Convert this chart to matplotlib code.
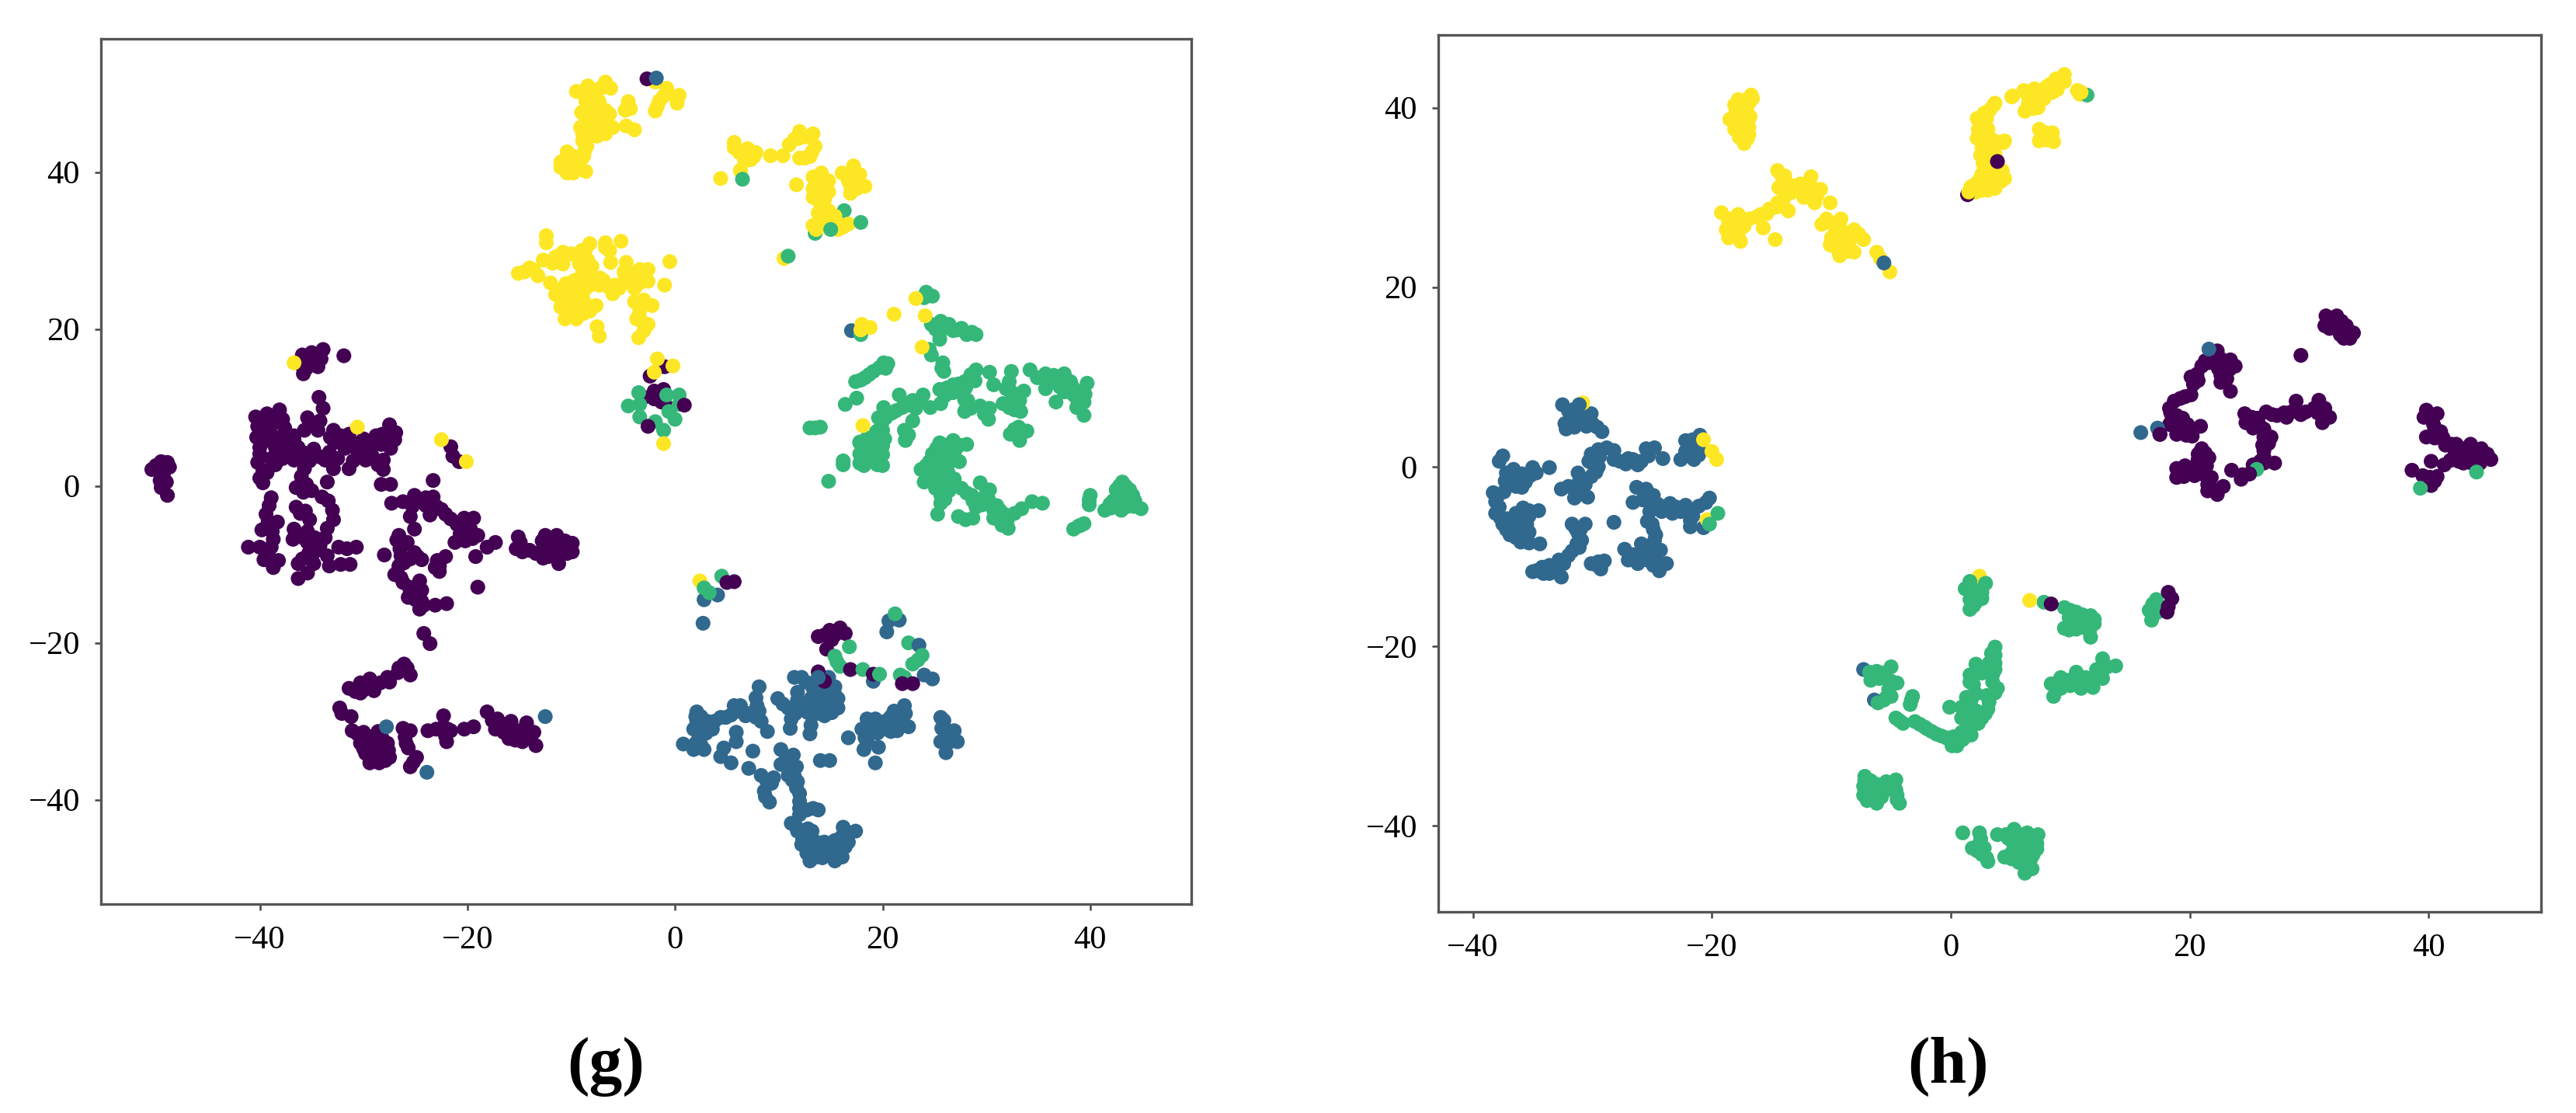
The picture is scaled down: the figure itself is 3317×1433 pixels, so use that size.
import numpy as np
import matplotlib
matplotlib.use('Agg')
import matplotlib.pyplot as pyp

pyp.rcParams['font.family'] = ['Liberation Serif', 'DejaVu Serif']

# panel (g), class by class
g_purple = [(-35,17),(-33.9,17.4),(-35.9,16.7),(-36.3,15.8),(-34.8,15.8),(-34.1,16.2),(-35.8,14.3),(-31.9,16.6),
  (-34.3,11.3),(-33.9,9.9),(-40.4,8.8),(-39.3,9.2),(-38.1,9.7),(-37.8,8.5),(-35.4,8.7),(-40.2,7.6),(-38.9,7.8),
  (-35.7,7.1),(-34.4,7.1),(-27.5,7.8),(-27.4,7.1),(-32.9,7.1),(-31.4,6.6),(-28.8,6.4),(-27,5.9),(-39.6,6.4),
  (-37.8,6.4),(-36.7,6.4),(-32.9,5.8),(-30.7,5.4),(-28.3,5.3),(-40,4.9),(-38.5,4.9),(-36.3,4.9),(-34.8,4.7),
  (-21.6,5),(-21.4,3.8),(-20.8,3.1),(-49.5,3.1),(-48.7,2.4),(-50.4,2.1),(-49.3,1.4),(-49.5,-0.2),(-48.9,-1.2),
  (-40,4.1),(-37.4,4.5),(-39.1,5.8),(-36.7,5.8),(-32.6,5.6),(-31.8,4.8),(-27.7,5.8),(-27.4,4.8),(-34.8,4.3),
  (-33.7,3.3),(-30.3,4.1),(-29.2,3.9),(-28.1,3.3),(-28.1,2.1),(-31.4,2.2),(-32.9,2.2),(-36.7,3.3),(-35.7,2.2),
  (-38.5,2.7),(-39.3,1.7),(-40,1),(-33.5,0.5),(-35.5,0.2),(-36.5,-0.2),(-28.3,0.2),(-27.4,0.2),
  (-38.9,-1.5),(-34,-1.4),(-36.5,-2.7),(-39.4,-3.6),(-33,-3.1),(-32.9,-4.3),(-35.2,-4.3),(-38.3,-4.6),(-39.8,-5.6),
  (-36.7,-5.5),(-33.5,-5.4),(-35.4,-5.8),(-38.7,-6.8),(-36.8,-6.8),(-35.4,-7.2),(-33.7,-6.6),(-41.1,-7.8),(-40,-7.8),
  (-38.9,-7.8),(-32.4,-7.8),(-30.7,-7.8),(-31.6,-8),(-34.8,-8.5),(-39.6,-9.4),(-38.2,-9.5),(-38.7,-10.4),(-36.3,-9.9),
  (-34.8,-9.9),(-33.3,-10.2),(-31.3,-10),(-32.2,-10),(-36.3,-11.8),(-35.4,-11.1),
  (-23.3,0.7),(-27.3,-2.2),(-26.2,-2),(-25.1,-1.2),(-23.3,-1.4),(-24,-2.5),(-25.5,-3.9),(-23.6,-3.7),(-22.1,-3.6),
  (-20.3,-4.1),(-19.4,-4.1),(-21,-4.9),(-19.7,-5.5),(-25.1,-5.5),(-20.7,-6.1),(-19,-6.3),(-21.2,-7.2),(-17.3,-7.2),
  (-18.1,-7.8),(-19.2,-9),(-26.6,-6.3),(-26.2,-7.5),(-25.1,-8.5),(-28,-8.8),(-26.4,-8.9),(-24.4,-9.4),(-22.1,-9),
  (-26.6,-10.2),(-22.7,-10.2),(-22.7,-10.9),(-27,-11.3),(-26.2,-12.3),(-24.6,-12.1),(-24.4,-13.3),(-25.5,-13.3),
  (-25.7,-14.2),(-24.4,-14.7),(-24.6,-15.7),(-23.1,-15.2),(-22,-15),(-19,-12.9),
  (-15.1,-6.5),(-15.3,-8),(-14,-8.2),(-12.7,-9.2),(-12.5,-6.3),(-11.4,-6.3),(-12.5,-7.5),(-11,-7.8),(-9.9,-7.3),
  (-9.9,-8.4),(-11.2,-9.9),(-12.8,-8.2),(-24.2,-18.8),(-23.6,-20.1),
  (-26.1,-22.7),(-26.6,-23.2),(-25.5,-24.1),(-27.7,-24.4),(-29.4,-24.6),(-29,-26.1),(-30.3,-25.1),(-31.4,-25.8),
  (-30.3,-26.4),(-32.1,-29),(-31.1,-31.2),(-30,-31.4),(-28.8,-31.7),(-30.3,-32.8),(-28.8,-33.1),(-27.7,-32.8),
  (-29.8,-34.1),(-28.5,-34.3),(-27.5,-34.6),(-29.4,-35.3),(-28.5,-35.3),(-26.2,-30.9),(-25.5,-31.2),(-25.9,-32.8),
  (-25.7,-33.4),(-24.9,-34.6),(-25.5,-35.8),(-23.8,-31.2),(-22.3,-29.3),(-22.3,-30.7),(-21.6,-31.2),(-22,-32.6),
  (-20.3,-31),(-19.4,-30.7),(-18.1,-28.8),(-17.3,-31),(-17.1,-29.7),(-15.8,-30),(-14.3,-30.2),(-16,-32.2),(-15.1,-31.2),
  (-14.7,-32.6),(-13.6,-31.4),(-13.4,-33.1),
  (-35.3,16.2),(-34.6,16.8),(-36,15.5),(-35.5,15),(-34.4,15.2),(-35.8,15),
  (-39.8,8),(-38.6,8.7),(-37.6,7.4),(-40.3,6.2),(-39,6.8),(-38.6,5.6),(-37.5,5.3),(-35.2,7.8),(-34.2,8.3),(-33.2,6.2),
  (-32.2,6.4),(-31.9,5.6),(-30,6),(-29.5,5.2),(-28.2,6.6),(-26.9,6.8),(-30.1,5),(-31,5),(-37.2,4),(-36.2,3.9),(-35.7,4.2),
  (-33.3,4.3),(-32.5,3.5),(-34.2,3.7),(-35.2,3.2),(-31,3.2),(-29.8,3.3),(-28.6,2.7),(-40.2,3),(-39.7,2),(-38.9,3.5),(-37.8,3.5),
  (-39.7,0.4),(-36,1.2),(-35,-0.6),(-35.8,-0.8),(-36.1,-3.5),(-35.6,-3.2),(-39.1,-2.5),(-39.2,-4.6),(-33.4,-1.9),
  (-38.8,-5.8),(-36.2,-6.2),(-35.7,-6.7),(-34.7,-6.6),(-35.3,-8.6),(-34.2,-7.6),(-39.2,-8.6),(-35.9,-9.3),(-33.5,-8.9),
  (-26.8,-6.9),(-25.8,-7.2),(-26.5,-8),(-25.5,-9.3),(-24.8,-9),(-26.1,-9.8),(-22.9,-9.5),(-23.1,-10.4),(-26.4,-11.7),
  (-25.6,-12.9),(-24.9,-13),(-25,-14.5),(-24.8,-12.7),(-24,-1.5),(-24.6,-1.8),(-25.3,-2.6),(-23,-2.6),(-22.5,-3),(-21.6,-4.2),
  (-20.5,-5.2),(-19.5,-6.7),(-20.2,-7),(-24.2,-15.2),
  (-14.9,-7.2),(-14.7,-8.4),(-13.4,-8.6),(-12.8,-7),(-11.9,-6.8),(-11.9,-8.3),(-11.4,-9),(-10.6,-7),(-10.4,-8.6),(-13,-8.7),(-12.2,-9),
  (-27.5,-25),(-30,-26),(-29.6,-25.4),(-28.4,-25.1),(-30.8,-26.2),(-26.7,-23.8),(-25.8,-23.2),
  (-30.6,-31.6),(-29.4,-32),(-29.5,-33.3),(-28.2,-32.2),(-28.2,-33.6),(-29,-34.7),(-30,-33.5),(-27.6,-33.7),(-28.6,-31.3),
  (-27.9,-35),(-26,-32),(-25.2,-35.2),(-21.9,-31),(-22.1,-31.9),(-23,-31),(-15.6,-31.4),(-16.6,-30.4),(-16.5,-31.4),(-14.5,-31.4),
  (-15.4,-32.4),(-14,-32),(-17.6,-29.9),(-50,2.6),(-49.4,2.3),(-48.9,3),(-49.6,0.7),(-49,0.5),(-31.2,-29.4),(-32.3,-28.3)]

g_blue = [(11.5,-24.4),(12.2,-24.4),(13.8,-24.4),(14.8,-24.4),(8.1,-25.6),(11.8,-26.3),(13.3,-25.8),(15.4,-25.6),
  (7.8,-27),(9.9,-27.1),(13.1,-27.1),(14.4,-27),(15.7,-27.1),(5.7,-28),(6.3,-28),(10.9,-28.3),(12.2,-28.3),(13.5,-28.3),
  (15.7,-28.3),(8.1,-28.7),(14.4,-29.3),(11.2,-29.7),(4.4,-29.5),(5.4,-29.2),(7,-29),(8.3,-30),(2.1,-28.8),(2.1,-30),
  (3.1,-30),(1.8,-31),(3.6,-31),(11.1,-30.9),(13.1,-30.5),(13,-31.6),(8.9,-31.3),(5.9,-31.4),(5.9,-32.6),(2.3,-32.1),
  (2.8,-33.6),(1.8,-33.6),(0.8,-32.9),(16.7,-32.1),(18.5,-29.7),(19.3,-29.7),(18.5,-31.4),(19.5,-30.5),(20.3,-31),
  (21.1,-28.7),(22.1,-28),(21.4,-29.7),(21.4,-31.2),(22.5,-30.7),(18.3,-32.1),(18.2,-33.6),(19.6,-33.3),(19.3,-35.3),
  (25.6,-29.5),(25.7,-30.9),(26.9,-31.2),(25.6,-32.6),(27.2,-32.6),(26.1,-34),(26.4,-31.9),
  (4.7,-33.4),(4.4,-34.5),(5.4,-35.3),(7.5,-33.8),(10.2,-33.6),(7.1,-36),(8.3,-36.9),(9.3,-37.9),(8.6,-38.9),(9.1,-40.3),
  (11.4,-34.3),(10.2,-35.5),(11.7,-35.8),(10.9,-36.9),(11.8,-37.7),(12,-39.2),(12,-41.1),(13.3,-41.1),(14,-35),(14.9,-35),
  (11.2,-43),(11.8,-44),(12.8,-43.7),(13.3,-45.1),(12.2,-45.7),(14.4,-45.4),(16.2,-43.5),(17.4,-44),(16.7,-45.4),
  (15.6,-46.2),(12.7,-46.8),(13.6,-47.3),(14.8,-46.9),(16.1,-47.3),(13.8,-41.3),(13,-47.8),(15.4,-47.8),
  (2.8,-14.5),(4.1,-13.9),(2.7,-17.5),(21.6,-17.1),(20.6,-17.2),(20.4,-18.6),(24,-24.1),(24.8,-24.6),(19.1,-24.9),
  (12.6,-25),(14.2,-25.5),(13.9,-26.5),(14.8,-26),(14.8,-27.5),(13.5,-27.5),(12.6,-27.7),(11.8,-27.3),(14,-28),(15.1,-28.9),
  (12.8,-28.9),(11.6,-29),(10.4,-27.8),(13.7,-29),(15.4,-26.6),(2.5,-29.4),(2.8,-30.8),(2,-29.4),(2.3,-31),(3,-31.5),(2,-32.8),
  (2.5,-33),(4.9,-29.5),(6,-28.7),(6.8,-29.3),(7.8,-29.5),(3.8,-30),(7.9,-28),(19,-30.6),(19.5,-31.5),(20.4,-29.9),(21,-30.5),
  (21.8,-28.7),(20.8,-29.4),(18,-31),(20.8,-31.3),(18.5,-32.5),(22.2,-29),(26.1,-31),(26.5,-32.6),(26.1,-33),(25.9,-29.9),
  (11.1,-35.5),(11,-36),(11.5,-37),(11.3,-37.5),(11.7,-38.5),(12,-40.2),(12.7,-41.3),(12,-41.9),(9.5,-37.2),(8.8,-37.5),(8.7,-39.6),
  (10.7,-34.8),(11.7,-43.5),(12.3,-44.6),(12.8,-45),(13.2,-44),(13,-46),(14,-46.2),(15,-46),(14,-45.5),(15.4,-45.2),(16,-44.8),
  (16.4,-46),(14.2,-47.4),(15.3,-47),(12.3,-45),(16.6,-44.2)]

g_green = [(24.2,24.7),(24.8,24.2),(24,24),(24.7,20.6),(25.6,21),(26.4,20.6),(25.5,19.4),(25.5,18.7),(26.8,19.8),
  (27.6,20.1),(28.1,19.3),(29,19.3),(24.5,17.4),(24.7,16.7),(25.8,15.7),(25.9,14.6),(20.1,15.7),(20.3,15),(19.1,14.6),
  (18.3,13.8),(17.4,13.3),(17.5,11.2),(16.4,10.4),(13.5,7.4),(13,7.4),(14,7.5),
  (21.6,11.6),(23.9,11.6),(22.9,10.9),(21.9,10),(20.9,9.3),(20.1,10),(19.6,8.7),(23.2,9.9),(24.6,10),(25.6,10.5),
  (25.5,12.3),(26.8,12.9),(27.9,13.3),(29,14.8),(28.9,13.4),(27.7,11.9),(28.2,10.9),(28,9.7),(29.4,10.2),(30.3,9.9),
  (30.2,8.5),(30.3,14.5),(30.7,12.9),(32.4,14.6),(32.2,13.3),(33.6,12.1),(32.8,11.7),(31.6,10.5),(32.8,10.4),(33.3,9.5),
  (34.2,14.8),(34.9,13.8),(35.7,14.3),(36.5,14.1),(37.5,14.3),(38.1,13.3),(39.7,13.1),(35.7,12.4),(37.1,12.6),(36.7,10.7),
  (38.4,11.6),(39.4,10.7),(39.4,9),(38.8,10.9),(33.1,7.5),(32.3,6.6),(33.9,7),(33.2,5.8),(22.9,8.3),(22.1,7.1),(22.2,5.9),
  (20,7.1),(19.1,6.1),(17.8,5.6),
  (17.8,5.5),(19.6,5.8),(22.2,5.8),(17.8,4.1),(19,4.5),(20,2.6),(17.8,2.9),(16.2,2.7),(14.8,0.6),(20,5.1),(19,3.1),
  (25.5,5.5),(26.8,5.8),(28.1,5.3),(24.8,4.1),(26.4,4.5),(24.5,3.1),(25.8,3.4),(27.4,3.1),(23.7,2.1),(25,2.1),(26.3,1.7),
  (24,0.5),(25.5,0.7),(26.9,0.9),(25.1,-0.3),(27.6,-0.3),(29.4,0.4),(30.3,-0.5),(26,-1.7),(25.3,-3.6),(28.7,-1.9),
  (30.2,-1.7),(31.3,-3.1),(30.7,-4.1),(32.1,-5.4),(32,-4.4),(33.4,-2.9),(34.4,-2),(35.4,-2.2),(27.3,-3.9),(28.7,-4.1),
  (40,-1.2),(39.9,-2.4),(38.9,-5.1),(38.4,-5.5),(39.4,-4.8),
  (43.1,0.5),(42.5,-0.5),(43.8,-0.5),(42.2,-1.9),(43.3,-1.7),(44.3,-1.9),(41.4,-3.1),(43,-3.1),(44.9,-2.9),
  (24.5,24.3),(25.1,20),(25.9,20.1),(27.2,19.9),(28.6,19.6),(25.7,15),(19.7,15.1),(18.7,14.2),(17.9,13.5),(20.5,15.6),
  (22.4,10.3),(23.5,10.8),(21.3,9.6),(20.3,8.7),(19.9,7.9),(19.4,6.9),(26.2,12.5),(27.3,13),(28.4,13.5),(28.5,14.2),(26,11.5),
  (26.8,11.9),(28,12.5),(27.9,11),(28.5,9.9),(29.8,9.2),(27.9,9.5),(31.9,12.4),(32.3,12.1),(32.6,11),(32.2,10),(33.2,10.9),
  (32.7,9.7),(36.4,13.3),(37,13.6),(37.8,13.3),(38.3,12.6),(37.5,12),(38.9,12),(38.7,10),(39.5,11.7),(36,13.7),(33.3,6.8),(32.7,7.2),
  (18.3,5.2),(18.5,3.8),(19.4,5.1),(20,4),(19.5,2.7),(18.2,2.6),(18.8,5.6),(16.2,3.2),(20.2,6),(19.5,7),(22.5,6.5),(18.5,6.1),
  (26.1,5.2),(27.4,5.2),(25.2,4.8),(25.5,4.4),(27,4.6),(25.1,3.6),(26.4,3),(24.2,2.6),(24.8,1.1),(26,1),(25.7,2.4),(24.6,1.5),
  (25.2,0.1),(26,0),(26.8,0.1),(24.4,1.2),(26.4,-0.6),(25.6,-1.2),(25.6,-2.2),(28.1,-0.9),(28.6,-1.2),(29.3,-1.8),(30,-0.9),
  (31,-2.5),(31.7,-3.6),(30.7,-3.1),(31.3,-4.4),(31.5,-5),(32.7,-3.5),(28,-4.3),(29.6,-2.4),(29,-2.7),
  (42.8,0),(43.4,0),(42.8,-1),(43.6,-1),(42.6,-2.6),(43.6,-2.6),(44.1,-1.2),(42,-2.8),(44.2,-2.6),(41.9,-2.3),(39.9,-1.8),(39.1,-5)]

g_yellow = [(-9.5,50.3),(-8.4,51),(-6.7,51.5),(-6.2,50.7),(-7.6,50.1),(-8.6,49.1),(-7.3,49),(-8.8,47.8),(-9,47.6),
  (-7.7,47.8),(-6.3,47.4),(-8.6,46.6),(-7,46.6),(-9.1,45.7),(-7.6,45.7),(-6,45.7),(-8.9,44.9),(-6.7,44.9),(-8.2,44.5),
  (-8.5,43.3),(-8.8,42),(-10.4,42.6),(-11,41.3),(-9.9,41.3),(-10.4,39.9),(-11,40.6),(-8.6,40.1),(-9.5,40.6),
  (-4.5,49),(-4.8,47.9),(-4.3,48.1),(-4.7,45.9),(-3.9,45.4),(-0.8,50.7),(0.4,49.8),(0.2,48.8),(-1.5,49.1),(-1.9,47.8),(-0.9,50),
  (-12.4,31.9),(-12.4,31),(-15.1,27.1),(-14,27.8),(-12.7,28.8),(-13.2,26.8),(-12,25.9),(-10.8,29.8),(-10.8,28.3),(-11.5,29.2),
  (-9.5,29.3),(-8.2,30.9),(-8.8,29.7),(-8,28),(-6.7,31),(-6.3,30),(-5.2,31.2),(-6.2,28.5),(-0.5,28.6),(-1,25.6),(-4.7,28.5),
  (-4.9,27.3),(-3.4,27.6),(-2.6,27.6),(-2.6,26.1),(-3.9,26.6),(-4.9,25.9),(-3.9,25.2),(-8.9,27.1),(-9.7,26.2),(-8,26.2),
  (-6.9,26.2),(-5.8,25.6),(-6,24.5),(-10.8,25.2),(-11.5,24.4),(-9.9,24.9),(-8.6,25.2),(-7.3,25.6),(-10.4,23.9),(-8.9,24.2),
  (-11,22.8),(-9.9,22.8),(-7.6,23),(-8.2,22.3),(-8.8,22),(-10.6,21.3),(-9.5,21.3),(-7.5,20.3),(-7.3,19.1),(-3.9,23.5),(-3,23.7),
  (-2.2,23),(-3.4,22.3),(-3.7,21.3),(-2.6,20.6),(-3,19.8),(-3.5,18.9),
  (5.7,43.8),(5.7,43.1),(6.8,42),(7.3,42.6),(7.8,42.5),(7.3,41.6),(6.3,40.2),(9.2,42.1),(10.4,42.1),(11,43.5),(12,45.2),
  (13.3,44.9),(11.9,44.3),(13.5,43.3),(12,41.8),(13,42),(4.4,39.2),(11.7,38.4),(13.3,39.4),(14.1,39.9),(14.8,38.9),(13.3,37.9),
  (14.8,37.5),(13.3,36.8),(14.4,36.5),(16.1,39.9),(17.2,40.8),(17.8,39.7),(16.7,38.9),(17.5,38.9),(18.3,38.2),(16.9,37.3),
  (-8,50.5),(-7.2,50.7),(-8.9,50.3),(-7.1,48.1),(-8,48.7),(-6.7,47.9),(-8,47),(-7.5,46.8),(-8.2,45.9),(-6.6,45.4),(-8.3,45.2),
  (-7.5,44.6),(-8.9,44),(-8.7,42.7),(-9.7,42),(-10.2,41.7),(-9.2,41.2),(-10.6,40.8),(-9.8,39.9),
  (-14.5,27.3),(-13.6,27.5),(-11.8,28.4),(-11.2,28.9),(-10,29.6),(-9,30),(-8.4,28.8),(-9.2,28.3),(-8.8,27.6),(-7.2,26.5),(-9.4,25.8),
  (-10.5,25.8),(-11,24.7),(-9.3,24.4),(-10.4,24.4),(-10.9,23.6),(-9.3,23),(-10.4,22.6),(-8.6,23.2),(-9.6,21.9),(-10.1,21.7),(-8.3,25.5),
  (-6.6,25.5),(-4.4,27.2),(-4.4,26.2),(-3.4,25.9),(-3,27),(-6.7,30.4),(-8.6,30.2),(-3.3,23),(-3.2,21),(-4.8,26.7),(-5.4,25.2),
  (6.2,42.5),(7,43),(7.6,42),(6.7,41.4),(11.5,44.2),(12.5,44.5),(13.2,42.6),(12.5,41.8),(13.9,38.7),(14,38),(14,37),(13.8,36.4),
  (16.6,39.5),(17.1,39.6),(16.9,38.3),(17.5,37.9),(-1.1,49.7),(0.2,49.3),(-1.7,48.4)]

# (x, y, class) in drawing order, where the classes overlap
g_strays = [(-36.7,15.7,3),(-1.9,51.5,3),(-2.7,51.9,0),(-1.8,52,1),(-30.6,7.5,3),(-22.5,5.9,3),(-20.1,3.1,3),
  (-2.4,14,0),(-1,15.2,0),(-1.7,16.2,3),(-0.2,15.3,3),(-2,14.5,3),
  (-2,12.1,0),(-1.1,12.3,0),(-2,11.1,0),(-1.3,10.7,0),(-3,11.3,0),(-0.5,9.9,0),
  (-3.5,11.9,2),(-4.5,10.2,2),(-3.4,10.4,2),(-0.8,11.6,2),(0.4,11.6,2),(0.4,10.4,2),(-0.6,9.5,2),(0,8.5,2),(-3.4,8.8,2),
  (-1.9,8.2,2),(-1.1,7.1,2),(0.9,10.3,0),(-2.6,7.6,0),(-1.1,5.4,3),
  (16.3,35.1,2),(13.5,32.2,2),(15.7,32.7,3),(13.8,34.8,3),(14.8,35.1,3),(15.4,34.4,3),(13.3,33.2,3),(14.4,33.8,3),(13.6,32.7,3),
  (16.7,33.4,3),(14.3,35,3),(14,34,3),(15,33.7,3),(13.9,33.4,3),(14.8,32.9,3),(15.8,33.3,3),(16.2,33,3),(14.4,34.4,3),(15.3,33.2,3),
  (17.9,33.6,2),(15,32.7,2),(6.3,40.2,3),(6.5,39.1,2),(10.5,29,3),(10.9,29.3,2),
  (23.2,23.9,3),(21.1,21.9,3),(24.1,21.7,3),(23.8,17.7,3),(17,19.8,1),(17.9,19.3,2),(18,20.6,3),(18.8,20.2,3),(17.9,19.9,3),(18.1,7.7,3),
  (2.4,-12.1,3),(4.5,-11.5,2),(5,-12.3,0),(5.7,-12.2,0),(2.8,-13,2),(3.3,-13.6,2),
  (13.8,-19.2,0),(14.9,-18.4,0),(15.9,-18.1,0),(16.4,-18.8,0),(15.1,-19.6,0),(14.6,-20.8,0),(14.4,-19,0),(15.4,-19,0),
  (16.8,-20.5,2),(15.4,-21.7,2),(15.6,-22.4,2),
  (15.9,-23,2),(16.9,-23.4,0),(18.1,-23.4,2),(19.1,-24,0),(19.7,-24,2),(21.2,-16.3,2),(22.5,-20,2),(23.5,-20.3,1),(23.8,-21.6,2),
  (22.9,-22.7,2),(23.4,-22.2,2),(21.7,-24.1,2),(22.1,-24.4,2),(21.9,-25.2,0),(22.9,-25.2,0),(13.8,-23.7,0),(14.4,-24.9,0),(13.8,-24.4,1),
  (-27.8,-30.7,1),(-12.5,-29.4,1),(-23.9,-36.5,1)]

# panel (h)
h_purple = [(31.4,16.8),(32.3,16.8),(31.3,15.7),(32.2,15.5),(33.1,15.7),(33.7,14.9),(33.4,14.3),(32.6,14.7),(29.3,12.4),
  (22.3,12.9),(21.3,11.8),(21,11.2),(22.2,11.4),(23.4,11.9),(23.8,11.2),(22.9,10.8),(20.1,10),(20.7,9.6),(20.3,9.2),(22.6,9.4),
  (23.4,8.4),(20.1,8),(19.2,7.6),(18.3,6.5),(18.9,5.7),(18.3,4.7),(18.9,4.3),(19.8,4.7),(19.7,3.5),(20.9,4.5),(17.5,3.6),
  (24.6,5.9),(25.2,5.5),(24.7,4.9),(25.8,4.7),(26.4,6.1),(27.3,5.7),(28.5,6.1),(28.9,7.3),(29.7,6.1),(30.8,7.4),(31.3,6.5),
  (31.7,5.5),(31.1,4.9),(26.2,3.3),(26.8,3.3),(26.2,1.8),(25.9,0.6),(27.1,0.4),(23.5,-0.4),(25,-0.8),(24.3,-1.4),
  (21,2),(21.6,1),(20.7,0.8),(18.9,-0.2),(18.9,-1.2),(20,-0.6),(21,-0.4),(21.8,-1.2),(21.5,-2.7),(22.8,-2.2),(22.3,-3.1),
  (39.8,6.3),(40.7,5.9),(39.6,5.5),(40.4,4.7),(41,3.9),(39.8,3.3),(41.9,2.5),(43.5,2.5),(42.2,1.4),(43.4,1.2),(44.9,1.4),
  (45.2,0.8),(42.9,0.4),(44.3,0.4),(40.2,0.6),(41.3,0.2),(38.6,-0.4),(40.1,-1.2),(40.2,-2.1),
  (31.9,16.3),(32.7,16.2),(31.7,15.4),(32.6,15.5),(33.3,15),(32.9,14.3),(32.2,15.9),(31.7,16.1),(33.1,15),
  (21.8,12.1),(22.6,12),(21.6,11.6),(22.9,11.5),(22.4,10.9),(23.3,10.8),(22.6,10.2),(23.1,9.8),(20.6,10.3),(19.6,7.8),(18.7,7.3),
  (18.4,6),(18.5,5.2),(19.3,4.8),(19.4,5.4),(18.9,3.6),(20.3,4.2),(20.2,3.4),
  (25,5.2),(25.7,5.4),(25.3,4.3),(26.2,4.2),(26.9,5.8),(27.9,6),(28.1,5.5),(28.9,6.3),(29.3,5.8),(30.4,6.5),(30.7,6),(31.2,5.6),
  (26.6,2.6),(26.1,2.4),(26.2,1.1),(26.2,0.4),(25.3,0.2),(24.4,-0.9),
  (21.3,1.5),(20.4,0),(19.6,0.1),(21.4,0.1),(20.4,-1),(21.2,-0.9),(21.5,-2),(22.1,-2.6),(20.7,1.4),(19.5,-1.1),
  (40.2,5.3),(40.5,4.1),(41.2,3.2),(40.5,3.2),(41.4,2.4),(42.8,2),(42.3,2.5),(43,1.2),(43.9,1.6),(44.2,1.1),(43.6,0.4),(42.5,0.6),
  (41.8,0.7),(40.7,-1.1),(40.5,-1.6),(39.5,-1),(39.9,5.9),(44.4,2)]

h_blue = [(-32.5,6.9),(-31.1,6.9),(-31.8,5.9),(-30.1,5.9),(-32.3,4.8),(-31,5),(-30,4.8),(-32.2,4.2),(-29.2,3.9),
  (-37.5,1.2),(-37.8,0.6),(-35,-0.1),(-33.6,-0.1),(-37.2,-0.7),(-35.9,-0.8),(-37.3,-1.6),(-35.6,-1.7),(-36.4,-2.2),(-38.3,-2.9),
  (-38.1,-3.9),(-38.1,-5.2),(-35.8,-4.6),(-34.5,-4.9),(-36.4,-5.2),(-35.3,-5.5),(-37.5,-6.4),(-35.5,-6.4),(-37.2,-7),(-35.3,-7.3),
  (-36.4,-7.9),(-35.3,-8.5),(-34.4,-8.6),(-28.8,2.1),(-28.2,1.8),(-30.1,1.4),(-30.3,0.6),(-29.5,0),(-30.1,-1.1),(-31.2,-0.7),
  (-31.2,-1.9),(-32.6,-2.5),(-31,-2.6),(-31.5,-3.5),(-30.4,-3.4),(-27.7,0.6),(-26.6,0.8),(-25.9,0.6),(-25.5,2),(-24.8,2.1),(-24.1,0.9),
  (-22.2,2.9),(-21,3.5),(-22.2,1.7),(-21.1,2),(-22.6,0.8),(-21.5,0.8),
  (-26.3,-2.3),(-25.5,-2.5),(-24.9,-3.2),(-26.6,-3.98),(-25.1,-4.3),(-23.5,-4.1),(-22.2,-4.3),(-21.1,-4.4),(-20.2,-3.5),(-23.3,-5.2),
  (-21.6,-5.5),(-21.8,-6.7),(-20.7,-6.8),(-25.4,-6.1),(-24.9,-7),(-24.8,-8.2),(-25.9,-8.6),(-24.3,-9.3),(-27.3,-9.2),(-25.5,-9.3),
  (-27,-10.4),(-25.4,-10.4),(-24.4,-11.6),(-23.8,-10.8),(-26.2,-10.8),(-31.7,-6.4),(-30.6,-6.4),(-31.2,-7.4),(-30.9,-8.2),(-31.7,-9.4),
  (-32.8,-10.4),(-33.6,-11),(-34.7,-11.6),(-33.6,-11.9),(-32.6,-12.3),(-28.2,-6.2),(-30.1,-10.8),(-29,-10.5),(-29.3,-11.4),(-35,-11.7),
  (-32,6.2),(-31.5,6.4),(-30.8,5.5),(-31.3,5.4),(-31.5,4.4),(-30.5,4.5),(-29.6,4.4),
  (-36.6,-0.3),(-36.5,-1),(-36.9,-1.9),(-35.9,-2.3),(-34.7,-0.7),(-35.2,-1),(-37.4,-2.8),(-38,-3.5),(-37.8,-4.5),(-37.7,-5.7),(-37.2,-5.8),
  (-36.7,-6.3),(-36.5,-7),(-35.7,-7.5),(-35.7,-8.3),(-35.8,-6),(-35.3,-4.9),(-36.9,-7.6),(-36,-8.4),(-36.4,-6.5),
  (-29.5,1.9),(-29.4,1.1),(-29.9,0.2),(-29.7,-0.6),(-30.6,-2),(-31.2,-3.1),(-32,-2.2),(-28.2,0.8),(-27.2,0.3),(-26.2,0.2),(-27,0.9),(-25.3,1.2),
  (-21.9,2.4),(-21.6,3),(-21.6,1.7),(-21.9,1.2),(-21.1,1.3),(-21,2.8),
  (-25.8,-3.7),(-25.3,-3.6),(-24.5,-4.2),(-23,-4.5),(-22.6,-5),(-21.6,-4.9),(-21.8,-6),(-20.5,-4),(-24.2,-5),(-25.2,-5),(-25,-6.4),(-24.7,-7.6),
  (-25,-8.8),(-25.7,-9),(-24.7,-9.9),(-26.6,-9.8),(-26,-10.1),(-25.2,-9.9),(-24.9,-11),(-25.9,-10.2),(-24.6,-10.6),
  (-31,-7),(-31.3,-8.6),(-31.1,-9),(-32,-9.9),(-32.4,-10.8),(-33,-11.3),(-34.2,-11.2),(-34.1,-11.9),(-33,-11.8),(-29.6,-11),(-29.5,-10.6),(-31.4,-6.9)]

h_green = [(1.6,-12.8),(2.9,-13),(1.2,-13.6),(2.3,-13.8),(1.6,-14.8),(2.6,-14.7),(1.6,-15.9),(7.8,-15.1),(9.5,-15.7),(10.5,-16.2),
  (11.7,-16.6),(10.8,-17.2),(12,-17.5),(9.5,-18),(10.5,-18.1),(11.7,-19),(16.9,-15.3),(17.2,-14.8),(16.6,-16),(17.2,-16.3),(16.8,-17.1),
  (3.7,-20.1),(3.4,-20.8),(3.7,-21.9),(2.1,-22),(1.6,-23.2),(2.9,-22.6),(1.6,-24),(3.5,-23.2),(3.9,-24.7),(3.2,-26.2),(1.3,-25.7),
  (2.1,-25.3),(-0.1,-26.8),(0.9,-26.8),(2.9,-27.5),(0.9,-28),(2.3,-28.6),(1.3,-29.2),(0.2,-30.1),(0.1,-31.1),(0.5,-31.1),(1,-30.4),
  (-6.2,-22.8),(-5,-22.3),(-6.7,-23.8),(-5.4,-23.5),(-4.5,-24.1),(-5,-25.6),(-6.1,-26.3),(-3.2,-25.6),(-3.4,-26.5),(-4.6,-28),(-4,-28.6),
  (-2.6,-28.7),(-2,-29.2),(-1.2,-29.8),(-0.4,-30.2),(12.7,-21.4),(13.8,-22.2),(12.2,-22.6),(10.5,-22.9),(12.7,-23.6),(9.2,-23.5),
  (8.4,-24.2),(10,-24.4),(9.2,-24.7),(10.9,-24.7),(11.9,-24.6),(8.6,-25.6),(-7.2,-34.5),(-7.3,-35.6),(-5.4,-35.1),(-4.6,-34.9),(-7.3,-36.6),
  (-6.2,-36.3),(-4.6,-36),(-6.2,-37.5),(-7,-37.2),(-4.3,-37.5),(-4.5,-36.6),(-6.2,-35.4),(1,-40.8),(2.4,-40.8),(2.4,-42),(1.8,-42.5),
  (2.6,-43.2),(3.1,-44),(3.9,-41),(5.3,-40.4),(6.4,-40.8),(7.3,-41),(5.1,-41.7),(6.4,-42),(7.2,-42.6),(5.6,-42.9),(4.5,-43.5),(6.7,-43.7),
  (5.7,-44.1),(6.8,-44.8),(6.2,-45.3),(5.3,-42.5),(7,-41.7),
  (1.7,-13.2),(2.2,-13),(1.7,-14.2),(2.6,-14),(2.1,-15.1),(1.9,-15.5),(2.4,-13.3),(10,-16),(9.9,-16.8),(11,-16.5),(11.3,-17),(10.9,-17.8),
  (11.6,-18.3),(12,-17),(11.3,-18),(9.9,-18.2),(17.3,-15.5),(16.9,-16.2),(17.5,-15.6),
  (3.7,-21),(3.2,-21.9),(2.6,-23),(2.1,-23),(2.2,-22.6),(1.9,-24.3),(3.7,-22.6),(3.5,-24),(3.7,-25.2),(3,-25.5),(3.1,-27),(2.6,-28),(2.1,-27.2),
  (1.4,-28.1),(1.7,-29),(0.9,-29.6),(0.6,-30.3),(1.1,-27.7),(1.3,-27),(1.7,-26),(1.7,-29.9),
  (-5.7,-23),(-6,-23.6),(-5,-23.9),(-5.2,-24.8),(-5.4,-25.7),(-5.6,-26),(-3.3,-26),(-4.3,-28.3),(-3,-28.4),(-2.2,-29),(-1.6,-29.5),(-0.8,-30),
  (13.1,-22.3),(12.4,-23.1),(11.3,-23.5),(10.5,-23.7),(11.7,-23.9),(9.9,-23.8),(9,-24),(11.2,-24.2),(12.2,-23.6),
  (-7.2,-35),(-6.8,-36),(-6.7,-35),(-5,-35.5),(-5.4,-36),(-5.8,-36.8),(-6.6,-36.8),(-4.5,-37.1),(-6.6,-35.7),
  (2.5,-41.5),(2.2,-42.8),(2.8,-42.5),(3,-43.6),(4.6,-41),(5.8,-41),(6.8,-41.3),(5.7,-41.7),(6.4,-41.5),(6.7,-42.4),(5.8,-42.4),(6.2,-43),
  (6.9,-43.2),(5.1,-43.7),(6.2,-43.7),(6.4,-44.5),(7.2,-42),(5.1,-43),(4.8,-41.4)]

h_yellow = [(-16.7,41.4),(-17.8,40.9),(-18.1,40.3),(-16.9,40.5),(-17.5,39.9),(-18.5,38.7),(-17,39.3),(-17.7,38.2),(-18.1,37.6),(-16.9,37.8),
  (-17.7,36.7),(-16.9,37),(-17.3,36),(-14.5,33),(-13.9,32.4),(-11.7,32.3),(-14.4,31.1),(-12.6,31.5),(-11.7,31.2),(-10.9,30.9),(-13.4,30.5),
  (-12.3,30),(-11.4,29.4),(-10.1,29.4),(-14.5,29.4),(-15.2,28.7),(-13.6,28.5),(-15.9,28.1),(-16.9,27.6),(-19.2,28.3),(-17.8,28.1),
  (-18.6,27.3),(-17.7,27.2),(-18.8,26.4),(-17.7,26.3),(-18.6,25.5),(-17.6,25.1),(-15.7,26.6),(-14.7,25.3),(-10.4,27.6),(-9.2,27.6),
  (-10.8,27),(-9.2,26.4),(-8.1,26.4),(-10,25.5),(-8.9,25.5),(-7.3,25.3),(-10.1,24.7),(-9,24.4),(-8.1,23.9),(-9.3,23.5),(-6.2,23.9),(-5.1,21.7),
  (5.1,41.2),(3.6,40.3),(2.8,39.4),(2.6,38.2),(2.8,37.4),(2.9,36.6),(4.4,36.1),(2.9,35.1),(2.9,34.2),(3.7,34.8),(2.6,32.6),(4.2,31.8),
  (3.3,32.1),(1.7,31.2),(2.6,30.8),(1.5,30.6),(9.5,43.7),(9.1,42.9),(8,42.3),(7,42.1),(6.1,41.9),(7,40.9),(8.5,41.7),(5.2,41.3),(6.2,39.6),
  (7.3,40),(10.9,41.7),(10.6,41.9),(7.4,37.6),(8.5,37.2),(7.4,36.3),(8.6,36.2),(3.7,40.5),(4.5,36.3),(4.5,32.1),
  (-17,41),(-17.4,40.6),(-17.6,39.2),(-18,39.5),(-16.8,39),(-17.9,38.8),(-17.3,38.4),(-17.2,37.6),(-17.5,37.1),(-17.7,37.4),(-17,36.6),(-16.6,41),
  (-14.2,32.5),(-14,31.5),(-13.2,31.3),(-12.1,31.5),(-11.9,30.6),(-12.5,30.6),(-13.9,30.3),(-14,29.8),(-14.7,28.9),(-14.2,29),(-11.2,30.2),
  (-16.3,27.8),(-15.4,28.2),(-18,27.8),(-18.2,26.8),(-18.2,25.9),(-17.3,26.8),(-18.4,27.6),(-9.8,27),(-9.7,26),(-9.6,25.3),(-9.6,24.7),(-8.7,26),
  (-8.5,25),(-9.4,24),(-8.6,24),(-7.7,25.9),(-5.9,23.2),
  (2.2,38.8),(3,38.8),(2.3,37.6),(3.1,37.6),(3.4,36.5),(3.8,36.2),(2.2,36.6),(2.6,35.5),(3.2,35.6),(2.5,34.7),(2.7,33.8),(3,33),(3.6,32.8),
  (3.9,32.4),(3.2,31.4),(2.1,31.5),(4.3,33),(3.7,31),(2.4,32),(3.1,30.8),(2.1,30.6),(3.3,39.8),
  (8.8,43.2),(9.5,42.9),(8.3,42.6),(7.6,41.5),(6.5,41.2),(7.8,41),(6.5,40.5),(8.9,42),(6.9,39.9),(10.8,41.5),(7.9,37.2),(8,36.4)]

h_strays = [(1.4,30.3,0),(3.9,34,0),(-5.6,22.7,1),(11.4,41.4,2),(10.9,41.7,3),(10.6,41.9,3),(1.5,30.6,3),(21.6,13.1,1),
  (15.9,3.8,1),(17.3,4.3,1),(17.5,3.6,0),(25.6,-0.3,2),(25,-0.8,0),(44,-0.6,2),(39.3,-2.4,2),(40.1,-1.2,0),
  (-20.7,3,3),(-20,1.7,3),(-19.6,0.8,3),(-20.4,-5.9,3),(-19.5,-5.2,2),(-20.2,-6.4,2),(-30.8,7.1,3),(-31.1,6.9,1),
  (2.4,-12.2,3),(1.6,-12.8,2),(2.9,-13,2),(6.6,-14.9,3),(8.4,-15.3,0),(18.2,-14,0),(18.5,-14.7,0),(18.2,-15.6,0),(18.1,-16.2,0),
  (-7.3,-22.6,1),(-6.8,-22.9,2),(-6.4,-26,1),(-6.1,-26.3,2)]

x_ticks = [-40, -20, 0, 20, 40]
g_y_ticks = [-40, -20, 0, 20, 40]
h_y_ticks = [-40, -20, 0, 20, 40]

W, H = 3317, 1433


def draw_panel(box, xlim, ylim, yticks, classes, strays, tag, tag_x):
  left, top, right, bottom = box
  ax = fig.add_axes([left/W, 1 - bottom/H, (right - left)/W, (bottom - top)/H])

  xs, ys, cs = [], [], []
  for label, pts in enumerate(classes):
    for p in pts:
      xs.append(p[0])
      ys.append(p[1])
      cs.append(label)
  for p in strays:
    xs.append(p[0])
    ys.append(p[1])
    cs.append(p[2])

  ax.scatter(xs, ys, c=cs, cmap='viridis', vmin=0, vmax=3, s=21, linewidths=0)
  ax.set_xlim(*xlim)
  ax.set_ylim(*ylim)
  ax.set_xticks(x_ticks)
  ax.set_yticks(yticks)
  ax.tick_params(length=2.0, width=0.6, color='#444444', labelsize=10.2, pad=4.5)
  for sp in ax.spines.values():
    sp.set_linewidth(0.8)
    sp.set_color('#555555')

  fig.text(tag_x/W, 1 - 1373/H, tag, fontsize=20.5, fontweight='bold',
    ha='center', va='center')
  return ax


fig = pyp.figure(figsize=(W/300, H/300), dpi=300)

draw_panel((130, 50, 1533.5, 1164), (-55.3, 49.7), (-53.3, 57.0), g_y_ticks,
  [g_purple, g_blue, g_green, g_yellow], g_strays, '(g)', 780)
draw_panel((1852, 45, 3272, 1174), (-42.9, 49.4), (-49.6, 48.1), h_y_ticks,
  [h_purple, h_blue, h_green, h_yellow], h_strays, '(h)', 2508)

fig.savefig('out.png', dpi=300)
pyp.close()
